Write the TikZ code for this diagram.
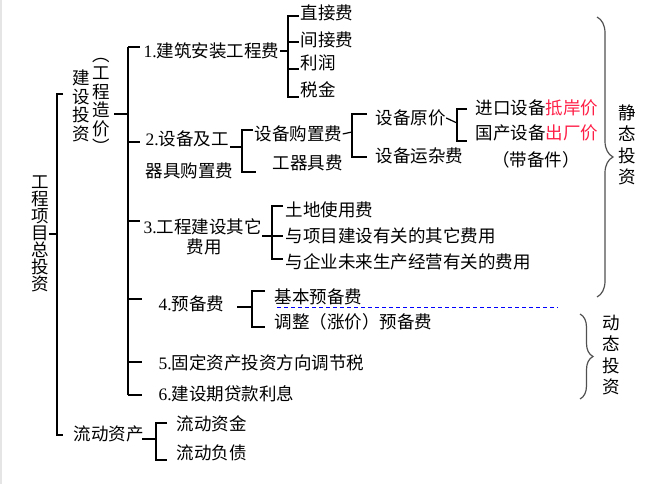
\documentclass[tikz,border=0pt]{standalone}
\usepackage{fontspec}
\setmainfont{Noto Sans CJK SC}
\newfontfamily\latn{Liberation Serif}
\usetikzlibrary{decorations.pathreplacing}
\definecolor{cred}{RGB}{255,30,70}
\definecolor{bracegray}{RGB}{80,80,80}
\begin{document}
\begin{tikzpicture}[x=1pt,y=-1pt,line width=1.2pt,
  lbl/.style={anchor=west,inner sep=0pt,font=\fontsize{17.5}{20}\selectfont,text height=15pt,text depth=2pt},
  vtxt/.style={inner sep=0pt,align=center,font=\fontsize{17.5}{#1}\selectfont},
  conn/.style={draw=black,line width=1.2pt},
  bracestyle/.style={draw=bracegray,line width=1.2pt,decorate,decoration={brace,amplitude=#1}}]
\useasboundingbox (0,0) rectangle (649,484);
\fill[gray!20] (0,0) rectangle (2,484);

% root
\node[vtxt=17] (root) at (40,234) {工\\程\\项\\目\\总\\投\\资};
\coordinate (tA) at (57,94);
\coordinate (bA) at (57,435);
\draw[conn] (root.east) -- (57,234);
\draw[conn] (63,94) -- (tA) -- (bA) -- (63,435);

% construction investment
\node[vtxt=18.5] (jstz) at (81,106) {建\\设\\投\\资};
\node[vtxt=18.5] (gczj) at (101,106) {︵\\工\\程\\造\\价\\︶};
\coordinate (tB) at (128,47);
\coordinate (bB) at (128,395);
\draw[conn] (114,114) -- (128,114);
\draw[conn] (tB) -- (bB);

% item 1
\node[lbl] (i1) at (143,51) {{\latn 1.}建筑安装工程费};
\draw[conn] (tB) -- (140,47);
\node[lbl] (d1) at (300,13) {直接费};
\node[lbl] (d2) at (300,40) {间接费};
\node[lbl] (d3) at (300,63) {利润};
\node[lbl] (d4) at (300,90) {税金};
\coordinate (j1) at (288,51);
\draw[conn] (i1.east) -- (j1);
\draw[conn] (299,16) -- (288,16) -- (288,97) -- (299,97);
\draw[conn] (288,42) -- (299,42);
\draw[conn] (288,69) -- (299,69);

% item 2
\node[lbl] (i2a) at (145,139) {{\latn 2.}设备及工};
\node[lbl] (i2b) at (145,171) {器具购置费};
\draw[conn] (128,142) -- (140,142);
\coordinate (j2) at (242,147);
\draw[conn] (230,147) -- (j2);
\node[lbl] (e1) at (254,134) {设备购置费};
\node[lbl] (e2) at (272,163) {工器具费};
\draw[conn] (253,130) -- (242,130) -- (242,172) -- (256,172);
\coordinate (j3) at (352,132);
\draw[conn] (e1.east) -- (j3);
\node[lbl] (f1) at (375,118) {设备原价};
\node[lbl] (f2) at (375,156) {设备运杂费};
\draw[conn] (367,114) -- (352,114) -- (352,157) -- (367,157);
\coordinate (j4) at (457,123);
\draw[conn] (f1.east) -- (j4);
\node[lbl] (g1) at (475,108) {进口设备\textcolor{cred}{抵岸价}};
\node[lbl] (g2) at (475,133) {国产设备\textcolor{cred}{出厂价}};
\node[lbl,anchor=center] (g3) at (536,160) {（带备件）};
\draw[conn] (467,109) -- (457,109) -- (457,141) -- (467,141);

% item 3
\node[lbl] (i3a) at (143,227) {{\latn 3.}工程建设其它};
\node[lbl,anchor=center] (i3b) at (204,247) {费用};
\draw[conn] (128,221) -- (140,221);
\node[lbl] (h1) at (285,210) {土地使用费};
\node[lbl] (h2) at (285,236) {与项目建设有关的其它费用};
\node[lbl] (h3) at (285,262) {与企业未来生产经营有关的费用};
\draw[conn] (262,236) -- (283,236);
\draw[conn] (283,206) -- (272,206) -- (272,259) -- (283,259);

% item 4
\node[lbl] (i4) at (158,304) {{\latn 4.}预备费};
\draw[conn] (128,299) -- (142,299);
\node[lbl] (k1) at (274,297) {基本预备费};
\node[lbl] (k2) at (274,322) {调整（涨价）预备费};
\draw[conn] (237,307) -- (252,307);
\draw[conn] (265,291) -- (252,291) -- (252,327) -- (265,327);
\draw[blue,line width=1pt,dash pattern=on 4pt off 3pt] (277,308) -- (558,308);

% item 5, 6
\node[lbl] (i5) at (158,363) {{\latn 5.}固定资产投资方向调节税};
\draw[conn] (128,362) -- (142,362);
\node[lbl] (i6) at (158,394) {{\latn 6.}建设期贷款利息};
\draw[conn] (bB) -- (142,395);

% current assets
\node[lbl] (ld) at (73,434) {流动资产};
\coordinate (j5) at (156,439);
\draw[conn] (142,439) -- (j5);
\node[lbl] (m1) at (176,424) {流动资金};
\node[lbl] (m2) at (176,453) {流动负债};
\draw[conn] (167,423) -- (156,423) -- (156,460) -- (167,460);

% braces
\draw[bracestyle=16pt] (597,17) -- (597,297);
\node[vtxt=21.5] (jt) at (627,145) {静\\态\\投\\资};
\draw[bracestyle=13pt] (580,314) -- (580,399);
\node[vtxt=21.5] (dt) at (611,355) {动\\态\\投\\资};
\end{tikzpicture}
\end{document}
